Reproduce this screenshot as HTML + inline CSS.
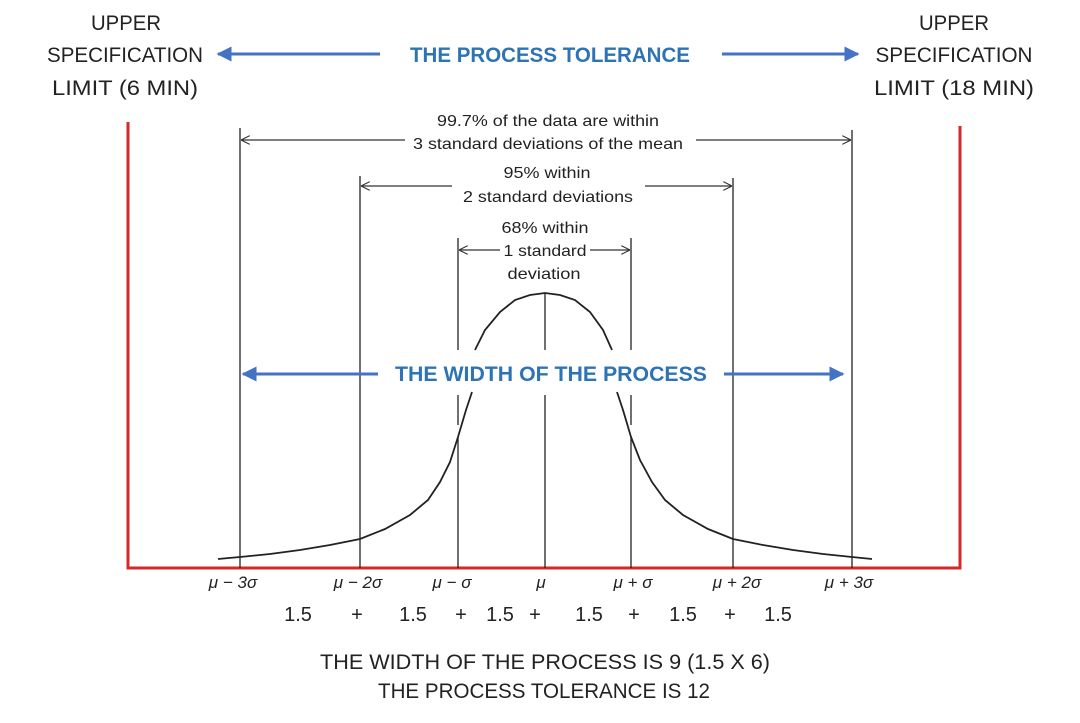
<!DOCTYPE html>
<html><head><meta charset="utf-8"><style>
html,body{margin:0;padding:0;background:#fff;}
svg{display:block;}
text{font-family:"Liberation Sans",sans-serif;fill:#222;}
.b{fill:#2e74b5;font-weight:bold;}
.g{font-family:"Liberation Serif",serif;font-style:italic;font-size:17px;}
</style></head><body>
<svg width="1080" height="723" viewBox="0 0 1080 723" xmlns="http://www.w3.org/2000/svg">
<defs>
<marker id="bh" viewBox="0 0 10 10" refX="9" refY="5" markerWidth="5" markerHeight="5" orient="auto-start-reverse"><path d="M0,0 L10,5 L0,10 z" fill="#4472c4"/></marker>
<marker id="kh" viewBox="0 0 10 10" refX="10" refY="5" markerWidth="9" markerHeight="9" markerUnits="userSpaceOnUse" orient="auto-start-reverse"><path d="M0,0 L10,5 L0,10" fill="none" stroke="#333" stroke-width="1.2"/></marker>
</defs>
<g font-size="21" text-anchor="middle">
<text x="126" y="30" textLength="70" lengthAdjust="spacingAndGlyphs">UPPER</text>
<text x="125" y="62" textLength="156" lengthAdjust="spacingAndGlyphs">SPECIFICATION</text>
<text x="125" y="95" textLength="146" lengthAdjust="spacingAndGlyphs">LIMIT (6 MIN)</text>
<text x="954" y="30" textLength="70" lengthAdjust="spacingAndGlyphs">UPPER</text>
<text x="954" y="62" textLength="157" lengthAdjust="spacingAndGlyphs">SPECIFICATION</text>
<text x="954" y="95" textLength="160" lengthAdjust="spacingAndGlyphs">LIMIT (18 MIN)</text>
</g>
<text class="b" x="550" y="62" font-size="21" text-anchor="middle" textLength="280" lengthAdjust="spacingAndGlyphs">THE PROCESS TOLERANCE</text>
<line x1="380" y1="54" x2="218" y2="54" stroke="#4472c4" stroke-width="3" marker-end="url(#bh)"/>
<line x1="722" y1="54" x2="858" y2="54" stroke="#4472c4" stroke-width="3" marker-end="url(#bh)"/>
<path d="M128,122 V568 H960 V126" fill="none" stroke="#d42a2a" stroke-width="3"/>
<g stroke="#222" stroke-width="1.3">
<line x1="240" y1="128" x2="240" y2="568"/>
<line x1="852" y1="130" x2="852" y2="568"/>
<line x1="360" y1="176" x2="360" y2="568"/>
<line x1="733" y1="178" x2="733" y2="568"/>
<line x1="458" y1="238" x2="458" y2="350"/>
<line x1="458" y1="395" x2="458" y2="425"/>
<line x1="458" y1="437" x2="458" y2="568"/>
<line x1="631" y1="238" x2="631" y2="350"/>
<line x1="631" y1="395" x2="631" y2="425"/>
<line x1="631" y1="437" x2="631" y2="568"/>
<line x1="545" y1="294" x2="545" y2="350"/>
<line x1="545" y1="395" x2="545" y2="568"/>
</g>
<polyline fill="none" stroke="#222" stroke-width="1.8" points="218,559 240,557 270,554 300,550 330,545 360,539 385,529 410,515 428,500 440,482 450,462 458,437 466,410 472,392" />
<polyline fill="none" stroke="#222" stroke-width="1.8" points="475,350 485,330 500,312 515,300 530,295 545,293 560,295 575,300 590,312 603,330 612,350" />
<polyline fill="none" stroke="#222" stroke-width="1.8" points="617,392 623,410 631,437 640,460 652,482 665,500 683,515 708,529 733,539 763,545 793,550 823,554 852,557 872,559" />
<g stroke="#333" stroke-width="1.2">
<line x1="405" y1="140" x2="241" y2="140" marker-end="url(#kh)"/>
<line x1="696" y1="140" x2="851" y2="140" marker-end="url(#kh)"/>
<line x1="452" y1="186" x2="361" y2="186" marker-end="url(#kh)"/>
<line x1="645" y1="186" x2="732" y2="186" marker-end="url(#kh)"/>
<line x1="500" y1="250" x2="459" y2="250" marker-end="url(#kh)"/>
<line x1="590" y1="250" x2="630" y2="250" marker-end="url(#kh)"/>
</g>
<g font-size="16" text-anchor="middle">
<text x="548" y="126" textLength="222" lengthAdjust="spacingAndGlyphs">99.7% of the data are within</text>
<text x="548" y="149" textLength="270" lengthAdjust="spacingAndGlyphs">3 standard deviations of the mean</text>
<text x="547" y="178" textLength="87" lengthAdjust="spacingAndGlyphs">95% within</text>
<text x="548" y="202" textLength="170" lengthAdjust="spacingAndGlyphs">2 standard deviations</text>
<text x="545" y="233" textLength="87" lengthAdjust="spacingAndGlyphs">68% within</text>
<text x="545" y="256" textLength="83" lengthAdjust="spacingAndGlyphs">1 standard</text>
<text x="544" y="279" textLength="73" lengthAdjust="spacingAndGlyphs">deviation</text>
</g>
<text class="b" x="551" y="381" font-size="21" text-anchor="middle" textLength="312" lengthAdjust="spacingAndGlyphs">THE WIDTH OF THE PROCESS</text>
<line x1="378" y1="374" x2="243" y2="374" stroke="#4472c4" stroke-width="3" marker-end="url(#bh)"/>
<line x1="724" y1="374" x2="843" y2="374" stroke="#4472c4" stroke-width="3" marker-end="url(#bh)"/>
<g class="g" text-anchor="middle" fill="#333">
<text x="233" y="588">μ − 3σ</text>
<text x="358" y="588">μ − 2σ</text>
<text x="452" y="588">μ − σ</text>
<text x="541" y="588">μ</text>
<text x="633" y="588">μ + σ</text>
<text x="737" y="588">μ + 2σ</text>
<text x="849" y="588">μ + 3σ</text>
</g>
<g font-size="20" text-anchor="middle">
<text x="298" y="621">1.5</text><text x="357" y="621">+</text>
<text x="413" y="621">1.5</text><text x="461" y="621">+</text>
<text x="500" y="621">1.5</text><text x="535" y="621">+</text>
<text x="589" y="621">1.5</text><text x="634" y="621">+</text>
<text x="683" y="621">1.5</text><text x="730" y="621">+</text>
<text x="778" y="621">1.5</text>
</g>
<g font-size="21" text-anchor="middle">
<text x="545" y="669" textLength="450" lengthAdjust="spacingAndGlyphs">THE WIDTH OF THE PROCESS IS 9 (1.5 X 6)</text>
<text x="544" y="698" textLength="332" lengthAdjust="spacingAndGlyphs">THE PROCESS TOLERANCE IS 12</text>
</g>
</svg>
</body></html>
